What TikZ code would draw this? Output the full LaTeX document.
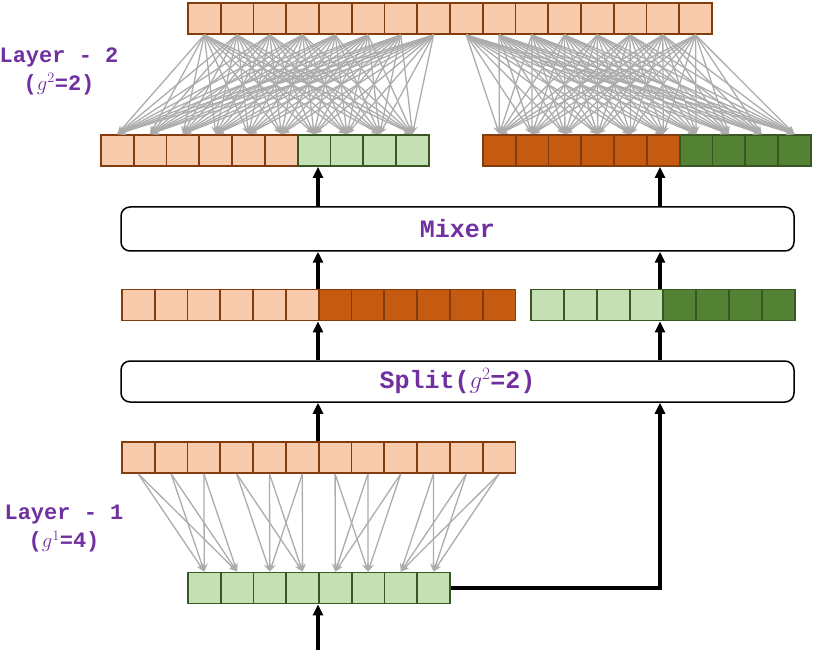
\documentclass[tikz,border=0pt]{standalone}
\usepackage{fontspec}
\setmonofont{Liberation Mono}
\usetikzlibrary{arrows.meta}
\definecolor{lor}{HTML}{F8CBAD}
\definecolor{dor}{HTML}{C55A11}
\definecolor{orb}{HTML}{843C0C}
\definecolor{lgr}{HTML}{C5E0B4}
\definecolor{dgr}{HTML}{548235}
\definecolor{grb}{HTML}{385723}
\definecolor{purp}{HTML}{7030A0}
\begin{document}
\begin{tikzpicture}[x=1pt,y=-1pt,
  cell/.style={draw, line width=1.8pt, minimum width=32.8pt, minimum height=31pt, inner sep=0pt, anchor=west},
  lo/.style={cell, fill=lor, draw=orb},
  do/.style={cell, fill=dor, draw=orb},
  lg/.style={cell, fill=lgr, draw=grb},
  dg/.style={cell, fill=dgr, draw=grb},
  box/.style={draw, rounded corners=9pt, line width=1.5pt, minimum width=673pt, inner sep=0pt, font=\fontsize{25}{28}\ttfamily\bfseries, text=purp},
  lbl/.style={font=\fontsize{22}{28}\ttfamily\bfseries, text=purp, align=center},
  conn/.style={-{Stealth[length=8pt,width=7pt]}, draw=gray!65, line width=1.3pt},
  flow/.style={-{Triangle[length=11pt,width=10pt]}, line width=3.2pt}]
\useasboundingbox (0,0) rectangle (814,652);
% layer 2 input row
\foreach \i in {0,...,15} \node[lo] (t\i) at ({187+32.75*\i},18.5) {};
% layer 2 output rows
\foreach \i in {0,...,5} \node[lo] (a\i) at ({100+32.8*\i},150.5) {};
\foreach \i in {6,...,9} \node[lg] (a\i) at ({100+32.8*\i},150.5) {};
\foreach \i in {0,...,5} \node[do] (b\i) at ({482+32.8*\i},150.5) {};
\foreach \i in {6,...,9} \node[dg] (b\i) at ({482+32.8*\i},150.5) {};
% mixer and split
\node[box, minimum height=44pt] (mix) at (457.5,229) {Mixer};
\node[box, minimum height=41pt] (split) at (457.5,381.5) {Split($g^2$=2)};
% middle rows
\foreach \i in {0,...,5} \node[lo] (m\i) at ({121+32.8*\i},305) {};
\foreach \i in {6,...,11} \node[do] (m\i) at ({121+32.8*\i},305) {};
\foreach \i in {0,...,3} \node[lg] (n\i) at ({530+33*\i},305) {};
\foreach \i in {4,...,7} \node[dg] (n\i) at ({530+33*\i},305) {};
% layer 1 rows
\foreach \i in {0,...,11} \node[lo] (u\i) at ({121+32.8*\i},457.5) {};
\foreach \i in {0,...,7} \node[lg] (v\i) at ({187+32.75*\i},588) {};
% layer 2 connections
\foreach \s in {0,...,7} \foreach \d in {0,...,9} \draw[conn] (t\s.south) -- (a\d.north);
\foreach \s in {8,...,15} \foreach \d in {0,...,9} \draw[conn] (t\s.south) -- (b\d.north);
% layer 1 connections (4 groups)
\foreach \g in {0,...,3} \foreach \k in {0,1,2} \foreach \j in {0,1} {
  \pgfmathtruncatemacro{\s}{3*\g+\k}\pgfmathtruncatemacro{\d}{2*\g+\j}
  \draw[conn] (u\s.south) -- (v\d.north);}
% flow arrows
\coordinate (p) at (318,0);
\coordinate (q) at (660,0);
\coordinate (in) at (318,650);
\draw[flow] (in) -- (p |- v0.south);
\draw[flow] (v7.east) -- (q |- v7.east) -- (q |- split.south);
\draw[flow] (p |- u0.north) -- (p |- split.south);
\draw[flow] (p |- split.north) -- (p |- m0.south);
\draw[flow] (q |- split.north) -- (q |- n0.south);
\draw[flow] (p |- m0.north) -- (p |- mix.south);
\draw[flow] (q |- n0.north) -- (q |- mix.south);
\draw[flow] (p |- mix.north) -- (p |- a0.south);
\draw[flow] (q |- mix.north) -- (q |- b0.south);
% labels
\node[lbl] (l2) at (59,71) {Layer - 2\\($g^2$=2)};
\node[lbl] (l1) at (64,529) {Layer - 1\\($g^1$=4)};
\end{tikzpicture}
\end{document}
